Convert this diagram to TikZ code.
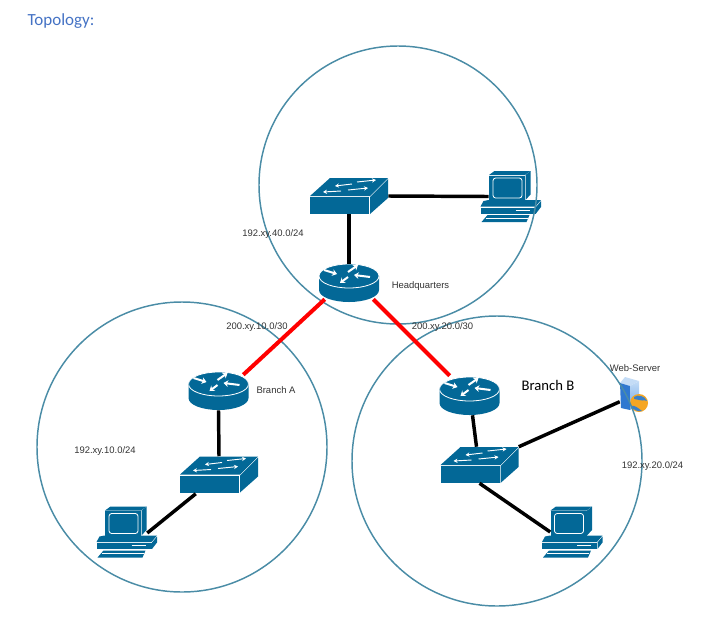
\documentclass[tikz,border=0pt]{standalone}
\usepackage{fontspec}
\setmainfont{Liberation Sans}
\newfontfamily\carlito{Carlito}
\usetikzlibrary{arrows.meta}
\definecolor{ciscoblue}{HTML}{036897}
\definecolor{ringblue}{HTML}{4A8CA6}
\definecolor{titleblue}{HTML}{4472C4}
\definecolor{labelgray}{HTML}{333333}
\definecolor{serverlight}{HTML}{C4DCF6}
\definecolor{servermid}{HTML}{6FA8E8}
\definecolor{serverdark}{HTML}{2F78D0}
\definecolor{globeorange}{HTML}{F5A623}
\definecolor{globeblue}{HTML}{3A80C8}
\newcommand{\routericon}{%
  \begin{scope}[shift={(path picture bounding box.center)}]
    \fill[ciscoblue] (-30,-7) -- (-30,7) .. controls (-30,14) and (-16,19) .. (0,19)
      .. controls (16,19) and (30,14) .. (30,7) -- (30,-7) -- cycle;
    \draw[white, line width=0.6pt, fill=ciscoblue] (-30,-7) .. controls (-30,-14) and (-16,-19) .. (0,-19)
      .. controls (16,-19) and (30,-14) .. (30,-7) .. controls (30,0) and (16,5) .. (0,5)
      .. controls (-16,5) and (-30,0) .. (-30,-7) -- cycle;
    \draw[iconarrow] (-25,-13)--(-12,-9);
    \draw[iconarrow] (21,-6)--(5,-8);
    \draw[iconarrow] (-1,-11)--(9,-18);
    \draw[iconarrow] (-1,-6)--(-9,0);
  \end{scope}}
\newcommand{\switchicon}{%
  \begin{scope}[shift={(path picture bounding box.center)}]
    \fill[ciscoblue] (-39,1) -- (20,1) -- (20,18) -- (-39,18) -- cycle;
    \fill[ciscoblue] (-39,0) -- (-19,-18) -- (39,-18) -- (21,0) -- cycle;
    \fill[ciscoblue] (21,1) -- (39,-17) -- (39,2) -- (21,18) -- cycle;
    \draw[iconarrowthin] (8,-14)--(27,-16);
    \draw[iconarrowthin] (3,-12)--(-14,-10);
    \draw[iconarrowthin] (-1,-6)--(19,-8);
    \draw[iconarrowthin] (-8,-5)--(-26,-4);
  \end{scope}}
\newcommand{\pcicon}{%
  \begin{scope}[shift={(path picture bounding box.center)}]
    \fill[ciscoblue] (-21.5,-21.5) -- (-16,-25.5) -- (20,-25.5) -- (14.5,-21.5) -- cycle;
    \fill[ciscoblue] (15,-21.5) -- (20,-25.5) -- (20,-2) -- (15,3.5) -- cycle;
    \fill[ciscoblue] (-21.5,-21) rectangle (14.5,4.5);
    \draw[white, line width=0.6pt, rounded corners=2pt] (-17.5,-18.5) rectangle (11.5,1.5);
    \fill[ciscoblue] (-27,4.5) -- (-22,3.5) -- (15,3.5) -- (30.5,3.5) -- (25,10) -- (-30,10) -- cycle;
    \fill[ciscoblue] (-30,11) rectangle (25,17);
    \fill[ciscoblue] (25.5,10.5) -- (30.5,4.5) -- (30.5,10.5) -- (25.5,17) -- cycle;
    \draw[white, line width=0.6pt] (5,13.5)--(19,13.5);
    \fill[ciscoblue] (-23,18.5) -- (19,18.5) -- (16,25.5) -- (-29,25.5) -- cycle;
    \draw[white, line width=0.5pt] (-25,21.5)--(17,21.5);
  \end{scope}}
\newcommand{\servericon}{%
  \begin{scope}[shift={(path picture bounding box.center)}]
    \fill[serverlight] (-14,-12) -- (-9,-18) -- (5,-14) -- (-4,-9) -- cycle;
    \fill[serverdark] (-14,-12) -- (-4,-9) -- (-4,15) -- (-13,13) -- cycle;
    \shade[top color=serverlight, bottom color=servermid] (-4,-9) -- (5,-14) -- (5,8) -- (-4,15) -- cycle;
    \fill[globeorange] (5,8) circle[radius=9];
    \fill[globeblue] (0,2) .. controls (4,-1) and (11,1) .. (13,6) .. controls (9,4) and (7,7) .. (5,5) .. controls (3,4) and (-1,5) .. (0,2) -- cycle;
    \fill[globeblue] (-3,11) .. controls (-1,15) and (4,17) .. (8,16) .. controls (4,13) and (1,10) .. (-3,11) -- cycle;
  \end{scope}}
\tikzset{
  iconarrow/.style={white, line width=1.5pt, -{Stealth[length=3.5pt,width=5pt]}},
  iconarrowthin/.style={white, line width=0.7pt, -{Stealth[length=3pt,width=3.2pt]}},
  routernode/.style={minimum width=45pt, minimum height=28.5pt, inner sep=0pt, path picture={\routericon}},
  switchnode/.style={minimum width=58.5pt, minimum height=27pt, inner sep=0pt, path picture={\switchicon}},
  pcnode/.style={minimum width=45.75pt, minimum height=38.25pt, inner sep=0pt, path picture={\pcicon}},
  servernode/.style={minimum width=21pt, minimum height=27pt, inner sep=0pt, path picture={\servericon}},
  ring/.style={draw=ringblue, line width=1.1pt},
  wire/.style={draw=black, line width=2.6pt},
  wan/.style={draw=red, line width=3pt},
  netlabel/.style={text=labelgray, font=\fontsize{7.1}{8}\selectfont, inner sep=0pt},
}
\begin{document}
\begin{tikzpicture}[x=0.75pt,y=-0.75pt]
        \useasboundingbox (0,0) rectangle (703,636);
        \node[switchnode] (swhq) at (349,196){};
        \node[switchnode] (swa) at (219,474.5){};
        \node[switchnode] (swb) at (479.5,465){};
        \node[routernode] (rthq) at (349,283){};
        \node[routernode] (rta) at (218.5,391){};
        \node[routernode] (rtb) at (469.5,396){};
        \node[pcnode] (pchq) at (510.5,196.5){};
        \node[pcnode] (pca) at (126.5,532){};
        \node[pcnode] (pcb) at (572,532){};
        \node[servernode] (web) at (634,395){};

        \node[ring, circle, minimum size=208.5pt, inner sep=0pt] (hqring) at (398,185){};
        \node[ring, circle, minimum size=217.5pt, inner sep=0pt] (aring) at (182,447){};
        \node[ring, circle, minimum size=217.5pt, inner sep=0pt] (bring) at (497,461){};

        \draw[wire] (swhq.east)--([shift={(9,0)}]pchq.west);
        \draw[wire] (swhq.south)--(rthq.north);
        \draw[wire] (rta.south)--(swa.north);
        \draw[wire] ([shift={(16,1)}]swa.south west)--([shift={(-10,1)}]pca.east);
        \draw[wire] ([shift={(3,0)}]rtb.south)--([shift={(-3,0)}]swb.north);
        \draw[wire] (swb.north east)--([shift={(0,6.7)}]web.west);
        \draw[wire] (swb.south)--([shift={(9,0)}]pcb.west);
        \draw[wan] ([shift={(6,-3)}]rthq.south west)--([shift={(-5.5,3)}]rta.north east);
        \draw[wan] ([shift={(-6,-3)}]rthq.south east)--([shift={(10.5,-1)}]rtb.north west);

        \node[text=titleblue, font=\carlito\fontsize{12.75}{15}\selectfont, inner sep=0pt] (title) at (61,21){Topology:};
        \node[netlabel] (lanhq) at (273,234){192.xy.40.0/24};
        \node[netlabel] (lana) at (105,451){192.xy.10.0/24};
        \node[netlabel] (lanb) at (652.5,466){192.xy.20.0/24};
        \node[netlabel] (wana) at (257,327){200.xy.10.0/30};
        \node[netlabel] (wanb) at (442.5,327){200.xy.20.0/30};
        \node[netlabel] (hqname) at (420.5,286){Headquarters};
        \node[netlabel] (aname) at (276,390){Branch A};
        \node[netlabel] (webname) at (635,368){Web-Server};
        \node[text=black, font=\carlito\fontsize{11}{13}\selectfont, inner sep=0pt] (bname) at (548,385){Branch B};
\end{tikzpicture}
\end{document}
